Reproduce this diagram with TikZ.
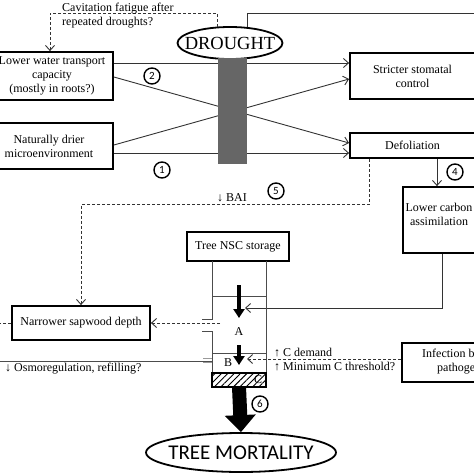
\documentclass[tikz,border=0pt]{standalone}
\usepackage{fontspec}
\setmainfont{Liberation Serif}
\newfontfamily\calib{Carlito}
\usetikzlibrary{arrows.meta,shapes.geometric,patterns.meta,calc}
\definecolor{barcol}{RGB}{102,102,102}
\begin{document}
\begin{tikzpicture}[x=1pt,y=-1pt,
  box/.style={draw=black,line width=1.8pt,align=center,inner sep=0pt,font=\fontsize{12}{14}\selectfont},
  txt/.style={inner sep=0pt,font=\fontsize{12}{14}\selectfont},
  conn/.style={draw=black!80,line width=0.9pt},
  arr/.style={conn,-{Straight Barb[length=5pt,width=9pt]}},
  darr/.style={arr,dash pattern=on 3pt off 2pt},
  num/.style={circle,draw=black,line width=1.4pt,minimum size=16pt,inner sep=0pt,font=\calib\fontsize{11}{11}\selectfont},
  wall/.style={draw=black!70,line width=0.8pt},
  fat/.style={line width=4.5pt,-{Triangle[length=9pt,width=11pt]}}
]
\useasboundingbox (0,0) rectangle (474,474);
\clip (0,0) rectangle (474,474);

% boxes
\node[box,minimum width=122pt,minimum height=48pt] (lwt) at (52,76) {Lower water transport\\capacity\\(mostly in roots?)};
\node[box,minimum width=128pt,minimum height=46pt] (ndm) at (49,146) {Naturally drier\\microenvironment};
\node[box,minimum width=125pt,minimum height=46pt] (ssc) at (412.5,76) {Stricter stomatal\\control};
\node[box,minimum width=125pt,minimum height=25pt] (def) at (412.5,145.5) {Defoliation};
\node[box,minimum width=72pt,minimum height=66pt] (lca) at (439,220) {};
\node[txt,align=center] (lcat) at (439,214.5) {Lower carbon\\assimilation};
\node[box,minimum width=138pt,minimum height=34pt] (nsd) at (81,323) {Narrower sapwood depth};
\node[box,minimum width=102pt,minimum height=29pt] (nsc) at (238,246.5) {Tree NSC storage};
\node[box,minimum width=78pt,minimum height=39pt] (inf) at (441,362.5) {};
\node[txt,anchor=west,align=left] (inft) at (422,361.5) {Infection by\\\hspace*{15pt}pathogens};

\node[ellipse,draw=black,line width=1.8pt,minimum width=105pt,minimum height=32pt,inner sep=0pt,
  label={[font=\fontsize{18.5}{18.5}\selectfont]center:DROUGHT}] (drought) at (230,43) {};
\node[ellipse,draw=black,line width=1.8pt,minimum width=190pt,minimum height=39pt,inner sep=0pt,
  label={[font=\calib\fontsize{21}{21}\selectfont]center:TREE MORTALITY}] (mort) at (241,452.5) {};

% crossing connectors behind the bar
\draw[arr] ([yshift=13pt]lwt.east) -- ([yshift=13pt]ssc.west);
\draw[arr] ([yshift=-1pt]lwt.east) -- ([yshift=2.5pt]def.west);
\draw[arr] ([yshift=1pt]ndm.east) -- ([yshift=-3pt]ssc.west);
\draw[arr] ([yshift=-7pt]ndm.east) -- ([yshift=-7.5pt]def.west);
\fill[barcol] (218,58) rectangle (247,164);

% top connectors
\coordinate (topR) at (480,13);
\draw[conn] (drought.42) |- (topR);
\coordinate (cav) at (50,13);
\draw[darr] (drought.127) |- (cav) -- (cav |- lwt.north);
\node[txt,anchor=west,align=left] (cavt) at (62,15.5) {Cavitation fatigue after\\repeated droughts?};

% right side
\draw[arr] ([xshift=24.5pt]def.south) -- ([xshift=-2pt]lca.north);
\coordinate (aIn) at (245,308);
\draw[arr] ([xshift=3pt]lca.south) |- (aIn);
\draw[darr] ([xshift=-43.5pt]def.south) -- ++(0,46) -| (nsd.north);
\node[txt,anchor=west] (bai) at (217,198) {↓ BAI};

% tank
\draw[wall] (212,261) -- (212,319) -- (202,319);
\draw[wall] (202,331) -- (212,331) -- (212,373);
\draw[wall] (266,261) -- (266,373);
\draw[wall] (212,296) -- (266,296);
\draw[wall] (212,353) -- (266,353);
\draw[wall] (0,361) -- (212,361);
\draw[draw=black!40,line width=0.9pt] (203,358.5) -- (212,358.5) (203,362.5) -- (212,362.5);
\draw[line width=1.2pt,pattern={Lines[angle=45,distance=4.5pt,line width=0.9pt]}] (212,373) rectangle (266,387);
\node[txt] (cl) at (258,380) {C};
\node[txt] (la) at (239,332) {A};
\node[txt] (lb) at (228,363) {B};
\draw[fat] (239,285) -- (239,318);
\draw[fat] (239,345) -- (239,365);
\coordinate (hatchB) at (239,387);
\draw[line width=14pt,-{Triangle[length=17pt,width=30pt]}] (hatchB) -- (mort.north);

\coordinate (opA) at (220,323);
\draw[darr] (opA) -- (nsd.east);
\draw[conn,dash pattern=on 3pt off 2pt] (nsd.west) -- ++(-15,0);
\coordinate (bIn) at (247,359);
\draw[darr] ([yshift=3.5pt]inf.west) -- (bIn);

\node[txt,anchor=west] (osm) at (5,369) {↓ Osmoregulation, refilling?};
\node[txt,anchor=west,align=left] (cdem) at (274,359.5) {↑ C demand\\↑ Minimum C threshold?};

% numbers
\node[num] (n2) at (152,76) {2};
\node[num] (n1) at (162,170) {1};
\node[num] (n4) at (455,172) {4};
\node[num] (n5) at (276,191) {5};
\node[num] (n6) at (260,404) {6};
\end{tikzpicture}
\end{document}
